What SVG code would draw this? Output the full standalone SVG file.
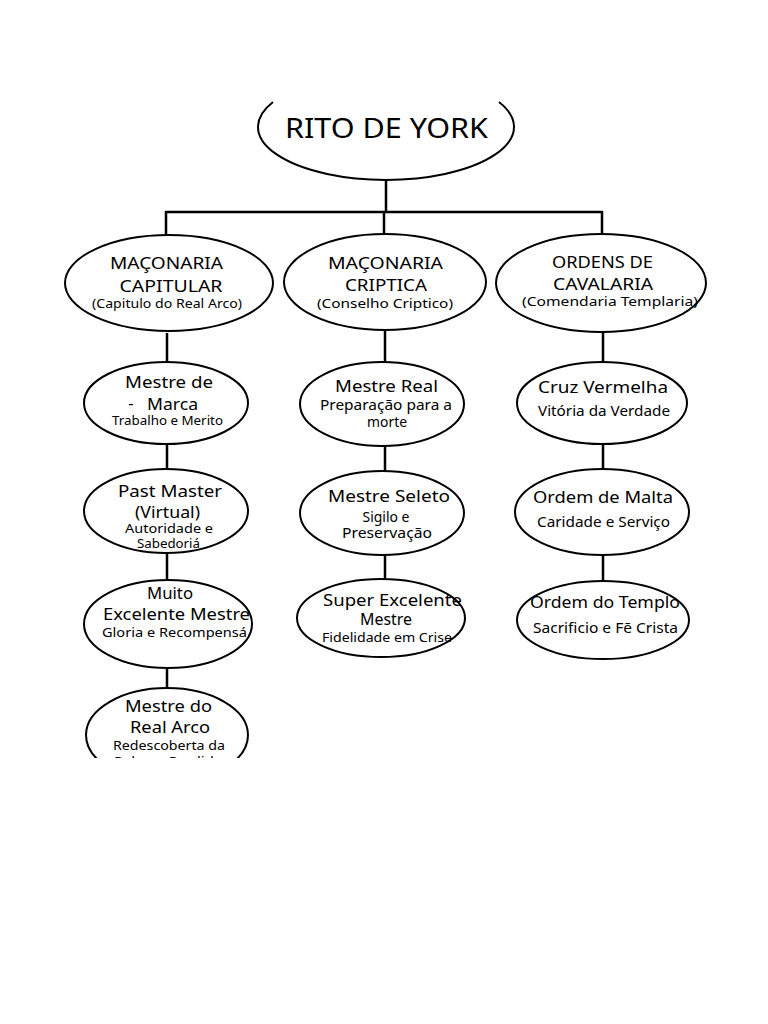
<svg xmlns="http://www.w3.org/2000/svg" width="768" height="1024" viewBox="0 0 768 1024">
<defs>
<style>
.n{fill:#fff;stroke:#000;stroke-width:2}
.c{stroke:#000;stroke-width:2.5;fill:none}
text{font-family:"Noto Sans","Open Sans",sans-serif;fill:#000;text-anchor:middle}
.t{font-size:28px}
.h{font-size:16.5px}
.m{font-size:16.5px}
.s{font-size:13px}
.p{font-size:13.5px}
</style>
<clipPath id="cut"><rect x="0" y="0" width="768" height="758"/></clipPath>
</defs>
<rect width="768" height="1024" fill="#fff"/>
<g id="connectors">
<path class="c" d="M386,180V212M166,212H602M166,211V236M384,212V234M602,211V235"/>
<path class="c" d="M167,333V362M167,444V469M167,553V580M167,668V688"/>
<path class="c" d="M385,331V362M385,446V471M385,555V579"/>
<path class="c" d="M603,332V362M603,444V469M603,555V581"/>
</g>
<g id="rito">
<path class="n" d="M273,102 A128,53 0 1,0 499,102"/>
<text class="t" x="386.5" y="138" textLength="203" lengthAdjust="spacingAndGlyphs">RITO DE YORK</text>
</g>
<g id="capitular">
<ellipse class="n" cx="169" cy="283" rx="104" ry="48"/>
<text class="h" x="166.5" y="269" textLength="113" lengthAdjust="spacingAndGlyphs">MAÇONARIA</text>
<text class="h" x="171" y="292" textLength="103" lengthAdjust="spacingAndGlyphs">CAPITULAR</text>
<text class="s" x="167" y="308" textLength="150" lengthAdjust="spacingAndGlyphs">(Capitulo do Real Arco)</text>
</g>
<g id="criptica">
<ellipse class="n" cx="385" cy="282" rx="101" ry="48"/>
<text class="h" x="385.5" y="269" textLength="115" lengthAdjust="spacingAndGlyphs">MAÇONARIA</text>
<text class="h" x="386" y="291" textLength="82" lengthAdjust="spacingAndGlyphs">CRIPTICA</text>
<text class="s" x="385" y="308" textLength="136" lengthAdjust="spacingAndGlyphs">(Conselho Criptico)</text>
</g>
<g id="cavalaria">
<ellipse class="n" cx="601" cy="283" rx="105" ry="49"/>
<text class="h" x="602.5" y="268" textLength="101" lengthAdjust="spacingAndGlyphs">ORDENS DE</text>
<text class="h" x="603" y="290" textLength="100" lengthAdjust="spacingAndGlyphs">CAVALARIA</text>
<text class="s" x="610" y="306" textLength="176" lengthAdjust="spacingAndGlyphs">(Comendaria Templaria)</text>
</g>
<g id="marca">
<ellipse class="n" cx="166" cy="403" rx="82" ry="41"/>
<text class="m" x="169" y="388" textLength="88" lengthAdjust="spacingAndGlyphs">Mestre de</text>
<text class="m" x="131" y="409">-</text>
<text class="m" x="172.5" y="410" textLength="51" lengthAdjust="spacingAndGlyphs">Marca</text>
<text class="s" x="167.5" y="425" textLength="111" lengthAdjust="spacingAndGlyphs">Trabalho e Merito</text>
</g>
<g id="pastmaster">
<ellipse class="n" cx="166" cy="511" rx="82" ry="42"/>
<text class="m" x="170" y="497" textLength="104" lengthAdjust="spacingAndGlyphs">Past Master</text>
<text class="m" x="167.5" y="518" textLength="65" lengthAdjust="spacingAndGlyphs">(Virtual)</text>
<text class="s" x="169" y="533" textLength="88" lengthAdjust="spacingAndGlyphs">Autoridade e</text>
<text class="s" x="168.5" y="548" textLength="63" lengthAdjust="spacingAndGlyphs">Sabedoriá</text>
</g>
<g id="muitoexcelente">
<ellipse class="n" cx="168" cy="624" rx="84" ry="44"/>
<text class="m" x="170" y="599" textLength="46" lengthAdjust="spacingAndGlyphs">Muito</text>
<text class="m" x="176.5" y="620" textLength="147" lengthAdjust="spacingAndGlyphs">Excelente Mestre</text>
<text class="s" x="174.5" y="637" textLength="145" lengthAdjust="spacingAndGlyphs">Gloria e Recompensá</text>
</g>
<g id="realarco" clip-path="url(#cut)">
<ellipse class="n" cx="167" cy="735" rx="81" ry="47"/>
<text class="m" x="168.5" y="712" textLength="87" lengthAdjust="spacingAndGlyphs">Mestre do</text>
<text class="m" x="170" y="733" textLength="80" lengthAdjust="spacingAndGlyphs">Real Arco</text>
<text class="s" x="169" y="750" textLength="112" lengthAdjust="spacingAndGlyphs">Redescoberta da</text>
<text class="s" x="168" y="766" textLength="108" lengthAdjust="spacingAndGlyphs">Palavra Perdida</text>
</g>
<g id="mestrereal">
<ellipse class="n" cx="382" cy="404" rx="82" ry="42"/>
<text class="m" x="386.5" y="392" textLength="103" lengthAdjust="spacingAndGlyphs">Mestre Real</text>
<text class="p" x="386" y="410" textLength="132" lengthAdjust="spacingAndGlyphs">Preparação para a</text>
<text class="p" x="387" y="427" textLength="40" lengthAdjust="spacingAndGlyphs">morte</text>
</g>
<g id="mestreseleto">
<ellipse class="n" cx="382" cy="513" rx="82" ry="42"/>
<text class="m" x="389" y="502" textLength="122" lengthAdjust="spacingAndGlyphs">Mestre Seleto</text>
<text class="p" x="386" y="522" textLength="47" lengthAdjust="spacingAndGlyphs">Sigilo e</text>
<text class="p" x="387" y="538" textLength="90" lengthAdjust="spacingAndGlyphs">Preservação</text>
</g>
<g id="superexcelente">
<ellipse class="n" cx="381" cy="618" rx="84" ry="39"/>
<text class="m" x="392.5" y="606" textLength="139" lengthAdjust="spacingAndGlyphs">Super Excelente</text>
<text class="m" x="386" y="625" textLength="52" lengthAdjust="spacingAndGlyphs">Mestre</text>
<text class="s" x="387" y="642" textLength="130" lengthAdjust="spacingAndGlyphs">Fidelidade em Crise</text>
</g>
<g id="cruzvermelha">
<ellipse class="n" cx="602" cy="403" rx="85" ry="41"/>
<text class="m" x="603" y="393" textLength="130" lengthAdjust="spacingAndGlyphs">Cruz Vermelha</text>
<text class="p" x="604" y="416" textLength="132" lengthAdjust="spacingAndGlyphs">Vitória da Verdade</text>
</g>
<g id="malta">
<ellipse class="n" cx="602" cy="512" rx="87" ry="43"/>
<text class="m" x="603" y="503" textLength="140" lengthAdjust="spacingAndGlyphs">Ordem de Malta</text>
<text class="p" x="603.5" y="527" textLength="133" lengthAdjust="spacingAndGlyphs">Caridade e Serviço</text>
</g>
<g id="templo">
<ellipse class="n" cx="603" cy="620" rx="86" ry="39"/>
<text class="m" x="605" y="608" textLength="150" lengthAdjust="spacingAndGlyphs">Ordem do Templo</text>
<text class="p" x="605.5" y="633" textLength="145" lengthAdjust="spacingAndGlyphs">Sacrificio e Fē Crista</text>
</g>
</svg>
